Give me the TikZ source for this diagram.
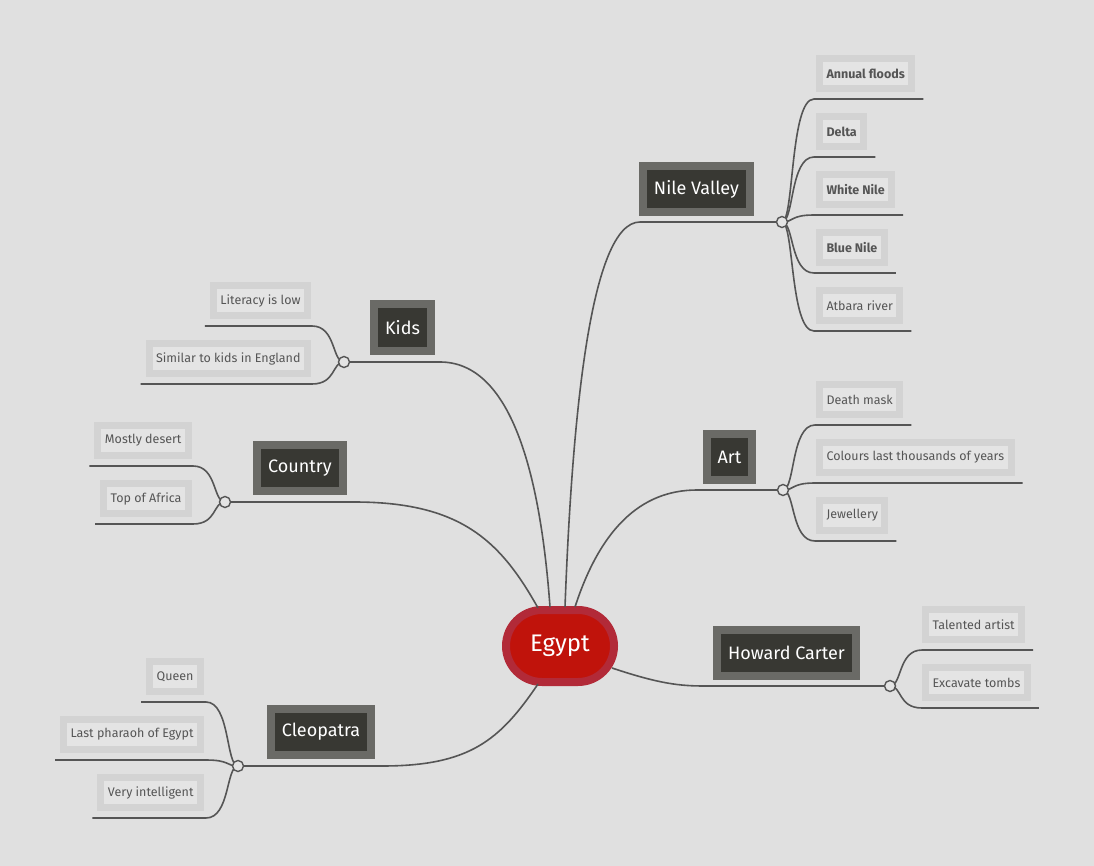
\documentclass[tikz,border=0pt]{standalone}
\usepackage{fontspec}
\setmainfont{Fira Sans}
\usetikzlibrary{calc}
\definecolor{bg}{HTML}{E0E0E0}
\definecolor{ln}{HTML}{555555}
\definecolor{mainout}{HTML}{6A6A66}
\definecolor{mainin}{HTML}{383833}
\definecolor{leafout}{HTML}{D3D3D3}
\definecolor{leafin}{HTML}{E4E4E4}
\definecolor{rout}{HTML}{B22A38}
\definecolor{rin}{HTML}{C0130B}
\begin{document}
\begin{tikzpicture}[x=1pt,y=-1pt,
 conn/.style={draw=ln,line width=1.6pt},
 junc/.style={circle,draw=ln,fill=leafin,line width=1.4pt,minimum size=11pt,inner sep=0pt},
 mainbox/.style={draw=mainout,line width=8pt,fill=mainin,text=white,font=\fontsize{18}{20}\selectfont,inner xsep=11pt,inner ysep=9pt,minimum height=46pt},
 leaf/.style={draw=leafout,line width=7pt,fill=leafin,text=ln,font=\fontsize{12.5}{14}\selectfont,inner xsep=7pt,inner ysep=8pt,minimum height=30pt},
 bleaf/.style={leaf,font=\fontsize{12.5}{14}\selectfont\bfseries}]
\fill[bg] (0,0) rectangle (1094,866);
\useasboundingbox (0,0) rectangle (1094,866);
% central
\node[draw=rout,line width=8pt,fill=rin,rounded corners=36pt,minimum width=108pt,minimum height=72pt,text=white,font=\fontsize{24}{26}\selectfont] (eg) at (560,646) {Egypt};
% main nodes
\node[mainbox] (nv) at (696.5,189) {Nile Valley};
\node[mainbox] (kd) at (402.5,327.5) {Kids};
\node[mainbox] (ct) at (300,468) {Country};
\node[mainbox] (cl) at (321,732) {Cleopatra};
\node[mainbox] (ar) at (729.5,457) {Art};
\node[mainbox] (hc) at (786.5,653) {Howard Carter};
% junctions
\coordinate (jnv) at (782,222);
\coordinate (jkd) at (344,362);
\coordinate (jct) at (225,502);
\coordinate (jcl) at (238,766);
\coordinate (jar) at (783,490);
\coordinate (jhc) at (890,686);
% main connectors
\draw[conn] (565,607) .. controls (572,420) and (590,222) .. (640,222) -- (jnv);
\draw[conn] (550,607) .. controls (540,470) and (510,362) .. (440,362) -- (jkd);
\draw[conn] (538,608) .. controls (500,540) and (460,502) .. (354,502) -- (jct);
\draw[conn] (538,684) .. controls (500,740) and (470,766) .. (382,766) -- (jcl);
\draw[conn] (575,607) .. controls (600,530) and (640,490) .. (697,490) -- (jar);
\draw[conn] (612,668) .. controls (660,684) and (680,686) .. (705,686) -- (jhc);
% right leaves
\foreach \t/\y/\x/\j/\s in {Annual floods/99/816/jnv/bleaf, Delta/157/816/jnv/bleaf, White Nile/215/816/jnv/bleaf, Blue Nile/273/816/jnv/bleaf, Atbara river/331/816/jnv/leaf,
 Death mask/425/816/jar/leaf, Colours last thousands of years/483/816/jar/leaf, Jewellery/541/816/jar/leaf,
 Talented artist/650/922/jhc/leaf, Excavate tombs/708/922/jhc/leaf}{
 \node[\s,anchor=south west] (L) at (\x,\y-7) {\t};
 \draw[conn] (\j) .. controls ($(\j)+(12,0)$) and ($(\j |- 0,\y)+(8,0)$) .. ($(\j |- 0,\y)+(32,0)$) -- ($(L.east |- 0,\y)+(8,0)$);
}
% left leaves
\foreach \t/\y/\x/\j in {Literacy is low/326/311/jkd, Similar to kids in England/384/311/jkd,
 Mostly desert/466/192/jct, Top of Africa/524/192/jct,
 Queen/702/204/jcl, Last pharaoh of Egypt/760/204/jcl, Very intelligent/818/204/jcl}{
 \node[leaf,anchor=south east] (L) at (\x,\y-7) {\t};
 \draw[conn] ($(L.west |- 0,\y)+(-5,0)$) -- ($(\j |- 0,\y)+(-32,0)$) .. controls ($(\j |- 0,\y)+(-8,0)$) and ($(\j)+(-12,0)$) .. (\j);
}
\foreach \j in {jnv,jkd,jct,jcl,jar,jhc} \node[junc] at (\j) {};
\end{tikzpicture}
\end{document}
